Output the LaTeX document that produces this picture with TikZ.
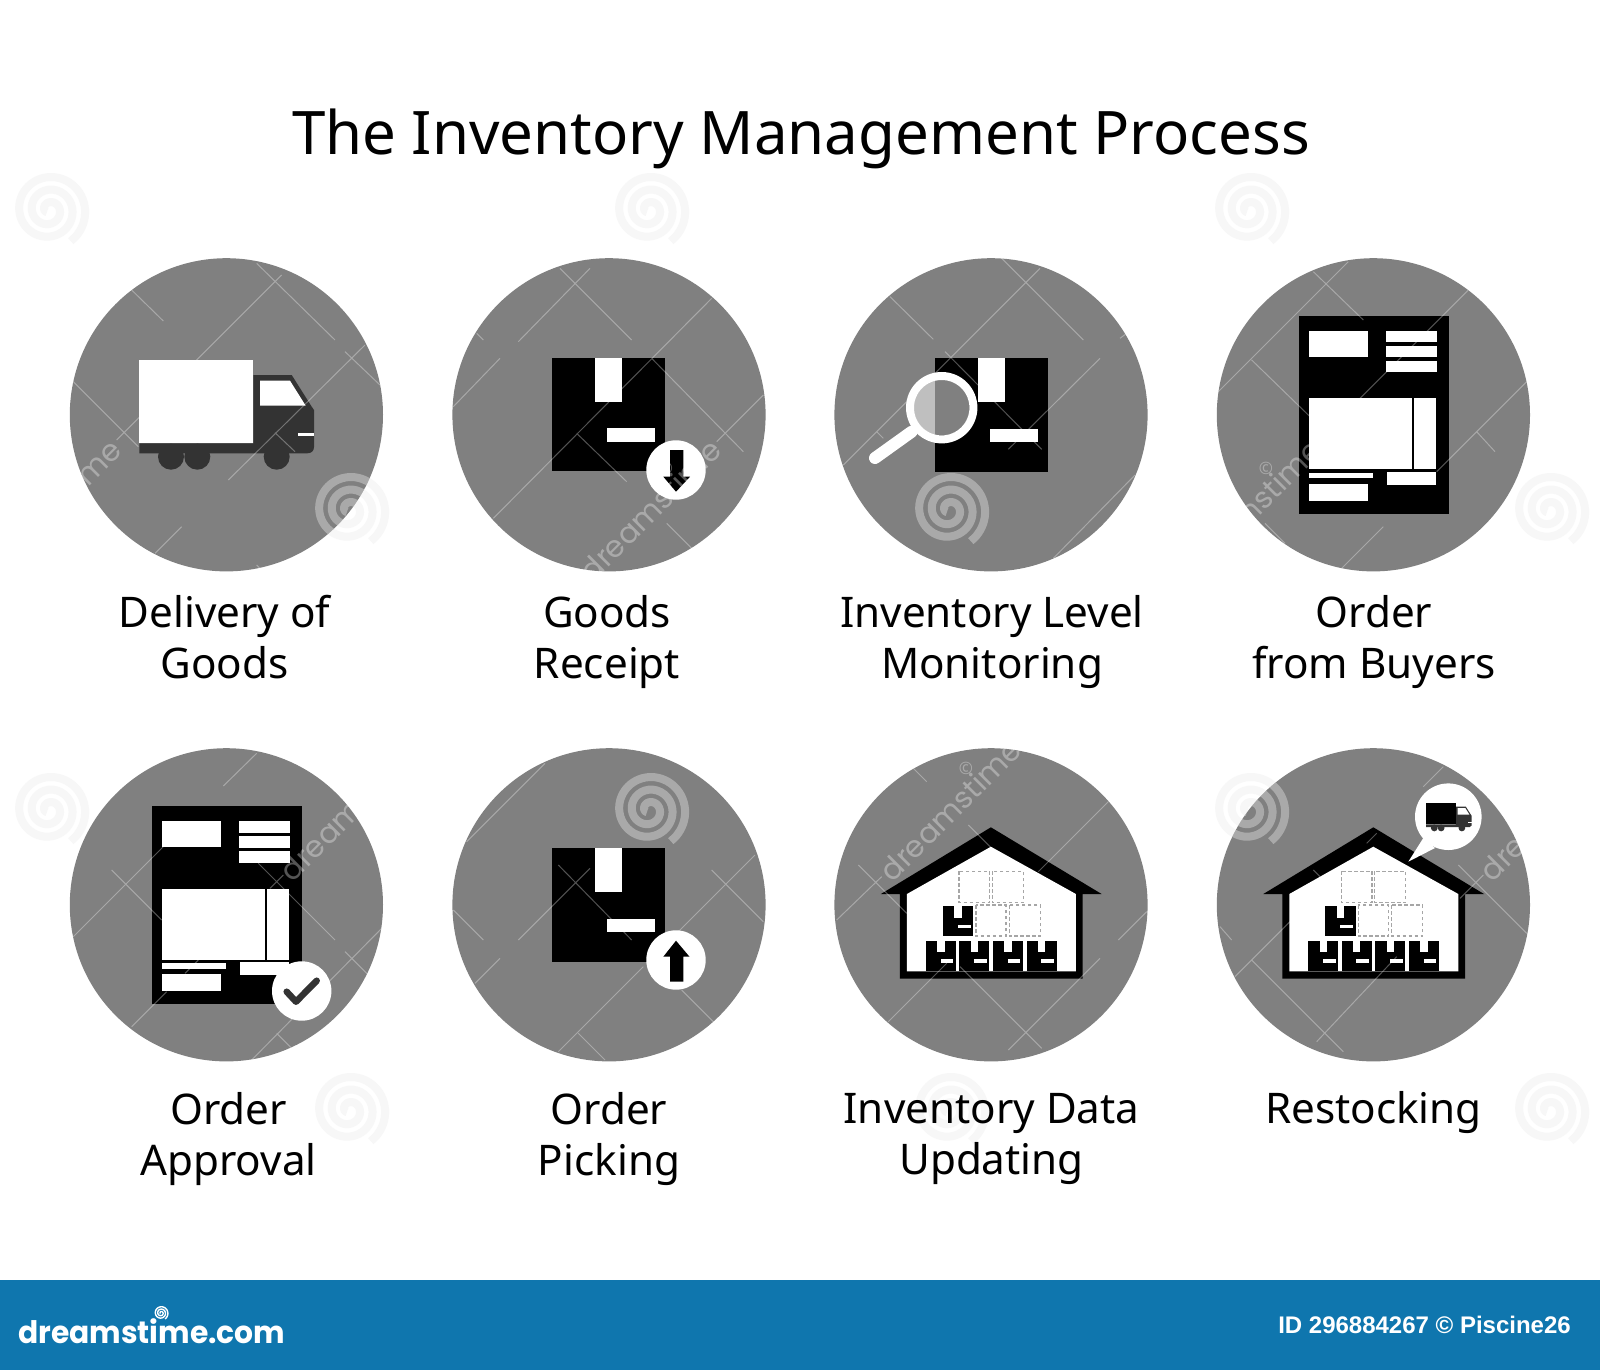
\documentclass[tikz,border=0pt]{standalone}
\usepackage{fontspec}
\setmainfont{Noto Sans}
\newfontfamily\logofont{Poppins}
\newfontfamily\creditfont{Liberation Sans}
\definecolor{discgray}{HTML}{808080}
\definecolor{cabdark}{HTML}{333333}
\definecolor{bannerblue}{HTML}{0F76AE}
\tikzset{
  disc/.style={fill=discgray,draw=none},
  blk/.style={fill=black,draw=none},
  wht/.style={fill=white,draw=none},
  dashbox/.style={draw=gray!70,line width=1.2pt,dash pattern=on 3.5pt off 2.5pt,fill=white},
  caption/.style={font=\fontsize{42.2}{51}\selectfont,align=center,text=black,inner sep=0pt},
  wmline/.style={draw=white,opacity=.32,line width=1pt},
  wmtext/.style={font=\logofont\fontsize{30}{30}\selectfont,text=white,text opacity=.33,rotate=45,inner sep=0pt},
  wmcopy/.style={font=\fontsize{17}{17}\selectfont,text=white,text opacity=.33,inner sep=0pt},
}
% spiral centred on the origin
\newcommand\spiralpath{plot[smooth,domain=0:1000,samples=90] ({(3+\x*0.035)*cos(\x-945)},{(3+\x*0.035)*sin(\x-945)})}
% parcel, top-left at (#1,#2), scale #3 (full size 113.3)
\newcommand\parcelicon[3]{%
  \begin{scope}[shift={(#1,#2)},scale=#3]
    \fill[blk] (0,0) rectangle (113.3,113.3);
    \fill[wht] (43.3,0) rectangle (70.3,43.7);
    \fill[wht] (55.3,70.3) rectangle (103.3,83.7);
  \end{scope}}
% order document, top-left at (#1,#2)
\newcommand\docicon[2]{%
  \begin{scope}[shift={(#1,#2)}]
    \fill[blk] (0,0) rectangle (149.7,198);
    \fill[wht] (10.3,14.7) rectangle (68.7,40.7);
    \fill[wht] (86.7,14.7) rectangle (138.3,26.3);
    \fill[wht] (86.7,30) rectangle (138.3,41.3);
    \fill[wht] (86.7,44.7) rectangle (138.3,56.3);
    \fill[wht] (10.3,82.3) rectangle (113.3,153.3);
    \fill[wht] (115,82.3) rectangle (137,153.3);
    \fill[wht] (10.3,157) rectangle (73.7,162.3);
    \fill[wht] (88.3,155.7) rectangle (137,168.7);
    \fill[wht] (10.3,168) rectangle (68.7,185);
  \end{scope}}
% truck, top-left at (#1,#2), scale #3, box colour #4, cab colour #5
\newcommand\truckicon[5]{%
  \begin{scope}[shift={(#1,#2)},scale=#3]
    \fill[#5] (31.7,96.7) circle (13);
    \fill[#5] (58,96.7) circle (13);
    \fill[#5] (137.4,96.7) circle (13);
    \fill[#5] (114,15) -- (152.4,15) -- (172.4,46.7) -- (174.7,50) -- (174.7,87)
       .. controls (174.7,91) and (172,93.3) .. (168,93.3) -- (0,93.3) -- (0,83.3) -- (114,83.3) -- cycle;
    \fill[#4] (0,0) rectangle (114,83.3);
    \fill[wht] (120.7,20.7) -- (150.7,20.7) -- (166.4,45.7) -- (120.7,45.7) -- cycle;
    \fill[wht] (159,72.7) rectangle (174.7,76);
  \end{scope}}
% warehouse, drawn for the Restocking disc and shifted by #1
\newcommand\warehouseicon[1]{%
  \begin{scope}[shift={(#1,0)}]
    \fill[blk] (1263.3,894) -- (1373.3,827.3) -- (1484,894) -- (1465,894) -- (1465,978.7) -- (1282.3,978.7) -- (1282.3,894) -- cycle;
    \fill[wht] (1289.3,894) -- (1373.3,846.7) -- (1458.3,894) -- (1458.3,971.3) -- (1289.3,971.3) -- cycle;
    \draw[dashbox] (1341.3,871.3) rectangle (1372,902.7);
    \draw[dashbox] (1374.7,871.3) rectangle (1405.7,902.7);
    \draw[dashbox] (1358.3,905) rectangle (1388.3,936);
    \draw[dashbox] (1391.7,905) rectangle (1422.7,936);
    \parcelicon{1325}{905.7}{0.27}
    \parcelicon{1308.3}{940.7}{0.265}
    \parcelicon{1341.7}{940.7}{0.265}
    \parcelicon{1375.3}{940.7}{0.265}
    \parcelicon{1409}{940.7}{0.265}
  \end{scope}}
\begin{document}
\begin{tikzpicture}[x=1pt,y=-1pt]
\useasboundingbox (0,0) rectangle (1600,1370);
\fill[white] (0,0) rectangle (1600,1370);

% faint spirals on the white paper
\foreach \sx/\sy in {49/210,649/210,1249/210,349/510,949/510,1549/510,49/810,649/810,1249/810,349/1110,949/1110,1549/1110}{
  \begin{scope}[shift={(\sx,\sy)}]
    \draw[draw=black!3,line width=8pt] \spiralpath;
  \end{scope}}

% discs
\foreach \cx in {226.4,609,991,1373.4}{
  \foreach \cy in {414.8,904.8}{
    \fill[disc] (\cx,\cy) circle (156.6);
  }}

% 1 delivery of goods
\truckicon{139.3}{360}{1}{white}{cabdark}

% 2 goods receipt
\parcelicon{552}{358}{1}
\fill[wht] (676,470) circle (29.7);
\fill[blk] (670,450) -- (683.3,450) -- (683.3,476.7) -- (690,476.7) -- (676,491.7) -- (663.3,476.7) -- (670,476.7) -- cycle;

% 3 inventory level monitoring
\parcelicon{934.7}{358.3}{1}
\fill[white,opacity=.5] (941.7,407.7) circle (28);
\draw[white,line width=8pt] (941.7,407.7) circle (31.7);
\draw[white,line width=12pt,line cap=round] (911.7,431.7) -- (875,458);

% 4 order from buyers
\docicon{1299}{316}

% 5 order approval
\docicon{152}{806.3}
\fill[wht] (301.7,991) circle (29.7);
\draw[cabdark,line width=6.5pt,line cap=round,line join=round] (286.7,991.7) -- (296,1001.7) -- (316.7,980.7);

% 6 order picking
\parcelicon{552}{848.3}{1}
\fill[wht] (676,960) circle (29.7);
\fill[blk] (670,981.7) -- (683.3,981.7) -- (683.3,956.7) -- (689.5,956.7) -- (676,940.7) -- (663.3,956.7) -- (670,956.7) -- cycle;

% 7 inventory data updating
\warehouseicon{-382.4}

% 8 restocking
\warehouseicon{0}
\fill[wht] (1423.3,838) -- (1408.3,861.7) -- (1435,848) -- cycle;
\fill[wht] (1448.3,816.7) circle (33.3);
\truckicon{1426}{802.7}{0.261}{black}{cabdark}

% watermark over the discs
\begin{scope}
  \clip (226.4,414.8) circle (156.6) (609,414.8) circle (156.6) (991,414.8) circle (156.6) (1373.4,414.8) circle (156.6)
        (226.4,904.8) circle (156.6) (609,904.8) circle (156.6) (991,904.8) circle (156.6) (1373.4,904.8) circle (156.6);
  \foreach \sx/\sy in {349/510,949/510,1549/510,49/810,649/810,1249/810,649/210,1249/210}{
    \begin{scope}[shift={(\sx,\sy)}]
      \draw[draw=white,opacity=.33,line width=8pt] \spiralpath;
    \end{scope}}
  \foreach \n/\tx/\ty in {d/50/510,e/650/510,f/1250/510,g/350/810,h/950/810,i/1550/810}{
    \node[wmtext] (wm\n) at (\tx,\ty) {dreamstime};
  }
  \foreach \n/\tx/\ty in {e/650/510,f/1250/510,h/950/810}{
    \node[wmcopy] (wmc\n) at (\tx+16,\ty-42) {©};
  }
  \begin{scope}[shift={(60,250)},scale=1/3]
    \draw[wmline] (590,40)--(825,270) (665,75)--(170,570) (215,120)--(310,213) (40,395)--(235,590) (915,285)--(505,690) (855,305)--(960,405) (645,548)--(705,605) (365,830)--(285,910) (590,945)--(610,965);
  \end{scope}
  \begin{scope}[shift={(440,250)},scale=1/3]
    \draw[wmline] (360,55)--(575,270) (450,55)--(235,275) (815,145)--(160,805) (635,325)--(910,605) (410,550)--(560,695) (180,325)--(40,470) (970,435)--(830,575) (680,820)--(755,895) (110,250)--(130,270);
  \end{scope}
  \begin{scope}[shift={(840,250)},scale=1/3]
    \draw[wmline] (485,25)--(730,270) (600,55)--(10,645) (150,140)--(280,268) (315,305)--(605,598) (780,325)--(505,598) (110,545)--(130,565) (885,675)--(640,925) (840,265)--(860,250);
  \end{scope}
  \begin{scope}[shift={(1210,250)},scale=1/3]
    \draw[wmline] (310,65)--(460,210) (415,35)--(25,425) (125,330)--(300,500) (775,120)--(450,445) (950,395)--(680,665) (800,545)--(855,605) (520,830)--(395,955) (165,820)--(225,880);
  \end{scope}
  \begin{scope}[shift={(60,740)},scale=1/3]
    \draw[wmline] (590,40)--(490,138) (310,320)--(40,590) (155,390)--(305,540) (595,370)--(825,600) (670,405)--(630,445) (965,565)--(575,960) (855,635)--(925,705) (650,880)--(695,925) (415,660)--(375,700) (320,755)--(215,860);
  \end{scope}
  \begin{scope}[shift={(440,740)},scale=1/3]
    \draw[wmline] (315,70)--(80,305) (355,375)--(575,600) (450,385)--(235,600) (40,510)--(130,600) (180,655)--(105,730) (945,345)--(620,670) (610,680)--(355,935) (815,390)--(970,545) (415,880)--(495,960) (725,750)--(820,845);
  \end{scope}
  \begin{scope}[shift={(820,740)},scale=1/3]
    \draw[wmline] (280,85)--(320,125) (445,255)--(530,340) (115,375)--(260,520) (185,410)--(50,540) (865,185)--(655,395) (980,515)--(895,600) (420,680)--(665,925) (840,655)--(565,930) (380,670)--(205,845);
  \end{scope}
  \begin{scope}[shift={(1210,750)},scale=1/3]
    \draw[wmline] (700,50)--(640,110) (500,250)--(470,280) (745,345)--(950,550) (820,375)--(750,445) (310,360)--(330,380) (240,515)--(75,680) (125,630)--(400,905) (560,620)--(320,875) (30,530)--(65,570);
  \end{scope}
\end{scope}

% title and captions
\node[font=\fontsize{60}{60}\selectfont,inner sep=0pt,text=black] (title) at (801,139) {The Inventory Management Process};
\node[caption] (cap1) at (224.5,637.5) {Delivery of\\Goods};
\node[caption] (cap2) at (607,642) {Goods\\Receipt};
\node[caption] (cap3) at (992,642) {Inventory Level\\Monitoring};
\node[caption] (cap4) at (1374,642) {Order\\from Buyers};
\node[caption] (cap5) at (228.5,1139) {Order\\Approval};
\node[caption] (cap6) at (609,1139) {Order\\Picking};
\node[caption] (cap7) at (991.5,1139) {Inventory Data\\Updating};
\node[caption] (cap8) at (1373.5,1113) {Restocking};

% banner
\fill[bannerblue] (0,1280) rectangle (1600,1370);
\node[anchor=base west,font=\logofont\bfseries\fontsize{31}{31}\selectfont,text=white,inner sep=0pt,xscale=.96] (logo) at (18,1343) {dreamstime.com};
\begin{scope}[shift={(161,1313)},scale=0.19]
  \draw[draw=white,line width=1.4pt] \spiralpath;
\end{scope}
\node[anchor=base east,font=\creditfont\bfseries\fontsize{24}{24}\selectfont,text=white,inner sep=0pt] (credit) at (1571,1333) {ID 296884267 © Piscine26};
\end{tikzpicture}
\end{document}
